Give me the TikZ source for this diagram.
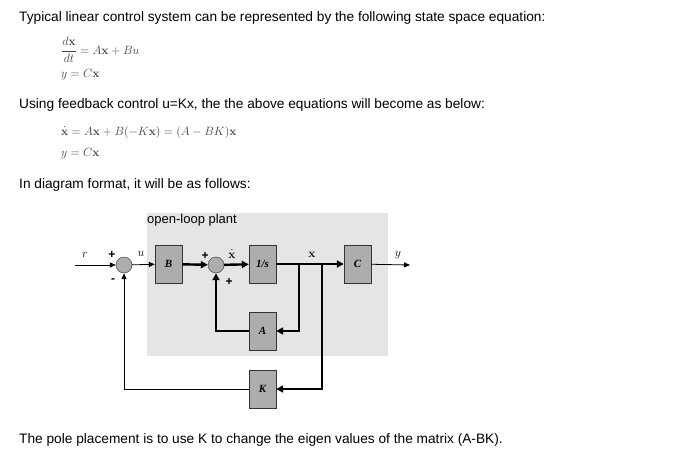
\documentclass[tikz,border=0pt]{standalone}
\usepackage{amsmath}
\usepackage[no-math]{fontspec}
\setmainfont{Liberation Sans}
\newfontfamily\serifbox{Liberation Serif}
\usetikzlibrary{arrows.meta}
\begin{document}
\begin{tikzpicture}[x=1pt,y=-1pt,
 txt/.style={anchor=west,inner sep=0,font=\fontsize{13.7}{15}\selectfont},
 eq/.style={anchor=west,inner sep=0,font=\fontsize{13}{15}\selectfont,text=black!75},
 blk/.style={draw=black!80,fill=black!32,minimum width=27pt,minimum height=38pt,inner sep=0,font=\fontsize{11}{13}\selectfont\serifbox\itshape\bfseries},
 sum/.style={circle,draw=black!80,fill=black!32,minimum size=16pt,inner sep=0},
 thin/.style={line width=0.8pt,-{Triangle[length=6pt,width=5pt]}},
 thick/.style={line width=2.4pt,-{Triangle[length=7pt,width=7pt]}},
 lab/.style={inner sep=0,font=\fontsize{12}{14}\selectfont}]
\useasboundingbox (0,0) rectangle (700,463);
\fill[white] (0,0) rectangle (700,463);
\node[txt] (t1) at (19,18) {Typical linear control system can be represented by the following state space equation:};
\node[eq] (e1) at (61,50) {$\dfrac{d\mathbf{x}}{dt} = A\mathbf{x} + Bu$};
\node[eq] (e2) at (61,75) {$y = C\mathbf{x}$};
\node[txt] (t2) at (19,105) {Using feedback control u=Kx, the the above equations will become as below:};
\node[eq] (e3) at (61,132) {$\dot{\mathbf{x}} = A\mathbf{x} + B(-K\mathbf{x}) = (A - BK)\mathbf{x}$};
\node[eq] (e4) at (61,154) {$y = C\mathbf{x}$};
\node[txt] (t3) at (19,185) {In diagram format, it will be as follows:};
\node[txt] (t4) at (19,440) {The pole placement is to use K to change the eigen values of the matrix (A-BK).};
\fill[black!10] (147,213) rectangle (388,356);
\node[inner sep=0,anchor=west,font=\fontsize{13}{15}\selectfont] (olp) at (147,220) {open-loop plant};
\coordinate (rin) at (75,265);
\node[sum] (c1) at (124,265) {};
\node[blk] (B) at (168.5,264) {B};
\node[sum] (c2) at (216,265) {};
\node[blk] (I) at (262.5,264) {1/s};
\node[blk] (C) at (357.5,264) {C};
\node[blk] (A) at (262.5,331) {A};
\node[blk] (K) at (262.5,389) {K};
\coordinate (yout) at (410,265);
\coordinate (jA) at (299,265);
\coordinate (jK) at (322,265);
\draw[thin] (rin) -- (c1);
\draw[thin] (c1) -- (B);
\draw[thick] (B) -- (c2);
\draw[thick] (c2) -- (I);
\draw[thick] (I) -- (C);
\draw[thin] (C) -- (yout);
\draw[thick] (jA) |- (A);
\draw[thick] (A) -| (c2);
\draw[thick] (jK) |- (K);
\draw[thin] (K) -| (c1);
\node[lab] (r) at (85,255) {$r$};
\node[lab] (p1) at (112,255) {\textbf{+}};
\node[lab] (m1) at (113,281) {\textbf{-}};
\node[lab] (u) at (141,254) {$u$};
\node[lab] (p2) at (205,256) {\textbf{+}};
\node[lab] (xd) at (232,254) {$\dot{\mathbf{x}}$};
\node[lab] (p3) at (229,282) {\textbf{+}};
\node[lab] (x) at (312,255) {$\mathbf{x}$};
\node[lab] (y) at (398,255) {$y$};
\end{tikzpicture}
\end{document}
